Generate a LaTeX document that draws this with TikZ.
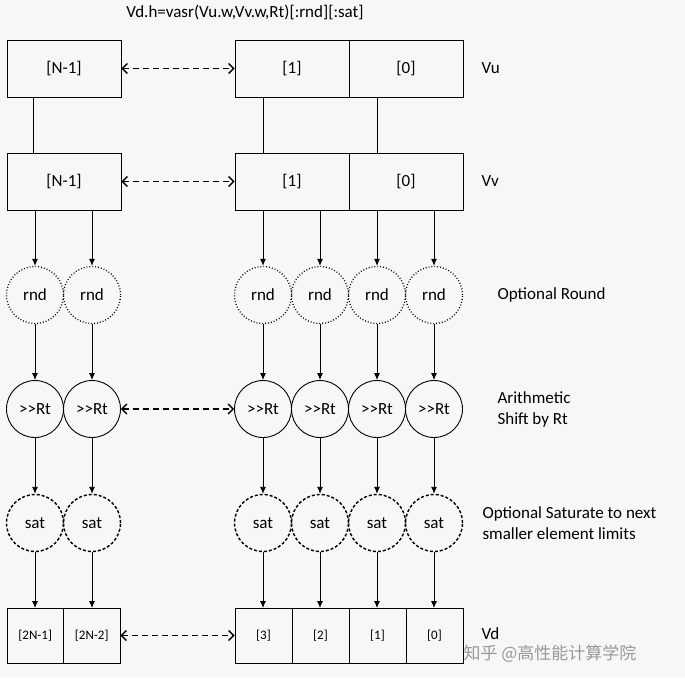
\documentclass[tikz,border=0pt]{standalone}
\usepackage{fontspec}
\setmainfont{Carlito}
\newfontfamily\cjk{Noto Sans CJK SC}
\usetikzlibrary{arrows.meta}
\begin{document}
\begin{tikzpicture}[x=1pt,y=-1pt,
  every node/.style={font=\fontsize{17}{21}\selectfont},
  box/.style={draw,line width=0.9pt,minimum height=57pt,inner sep=0pt},
  cir/.style={circle,draw,line width=0.9pt,minimum size=57pt,inner sep=0pt},
  rnd/.style={cir,dotted,line width=1.3pt},
  sat/.style={cir,densely dashed,line width=1.4pt},
  arr/.style={-{Latex[length=7pt,width=6pt]},line width=0.9pt},
  dar/.style={{Straight Barb[length=5pt]}-{Straight Barb[length=5pt]},dash pattern=on 6pt off 4pt,line width=1.4pt},
  lab/.style={anchor=west,align=left}]
\useasboundingbox (0,0) rectangle (685,678);
\fill[white!97!black] (0,0) rectangle (685,678);
\node at (245,12) {Vd.h=vasr(Vu.w,Vv.w,Rt)[:rnd][:sat]};
% Vu
\node[box,minimum width=114pt] (uL) at (64,68.5) {[N-1]};
\node[box,minimum width=114pt] (u1) at (292,68.5) {[1]};
\node[box,minimum width=114pt] (u0) at (406,68.5) {[0]};
\node[lab] (vu) at (478,68.5) {Vu};
% Vv
\node[box,minimum width=114pt] (vL) at (64,181.5) {[N-1]};
\node[box,minimum width=114pt] (v1) at (292,181.5) {[1]};
\node[box,minimum width=114pt] (v0) at (406,181.5) {[0]};
\node[lab] (vvl) at (478,181.5) {Vv};
\draw[line width=0.9pt] (33,97) -- (33,153) (263,97) -- (263,153) (377,97) -- (377,153);
\draw[dar] (uL.east) -- (u1.west);
\draw[dar] (vL.east) -- (v1.west);
% circles
\foreach \i/\x in {a/35,b/92,c/263,d/320,e/377,f/434}{
  \node[rnd] (r\i) at (\x,295) {rnd};
  \node[cir] (s\i) at (\x,409) {>{}>Rt};
  \node[sat] (t\i) at (\x,523) {sat};
  \coordinate (top\i) at (\x,210);
  \coordinate (bot\i) at (\x,608);
  \draw[arr] (top\i) -- (r\i);
  \draw[arr] (r\i) -- (s\i);
  \draw[arr] (s\i) -- (t\i);
  \draw[arr] (t\i) -- (bot\i);
}
\draw[dar] (sb.east) -- (sc.west);
\node[lab] at (494,295) {Optional Round};
\node[lab] at (494,409) {Arithmetic\\Shift by Rt};
\node[lab] at (479,523) {Optional Saturate to next\\smaller element limits};
% Vd
\begin{scope}[every node/.style={font=\fontsize{13}{15}\selectfont}]
\node[box,minimum width=56.5pt,minimum height=55pt] (d5) at (35.25,635.5) {[2N-1]};
\node[box,minimum width=56.5pt,minimum height=55pt] (d4) at (91.75,635.5) {[2N-2]};
\node[box,minimum width=57pt,minimum height=55pt] (d3) at (263.5,635.5) {[3]};
\node[box,minimum width=57pt,minimum height=55pt] (d2) at (320.5,635.5) {[2]};
\node[box,minimum width=57pt,minimum height=55pt] (d1) at (377.5,635.5) {[1]};
\node[box,minimum width=57pt,minimum height=55pt] (d0) at (434.5,635.5) {[0]};
\end{scope}
\draw[dar] (d4.east) -- (d3.west);
\node[lab] at (478,634) {Vd};
\node[anchor=west,text=black!40,font=\cjk\fontsize{17}{20}\selectfont] at (460,654) {知乎 @高性能计算学院};
\end{tikzpicture}
\end{document}
